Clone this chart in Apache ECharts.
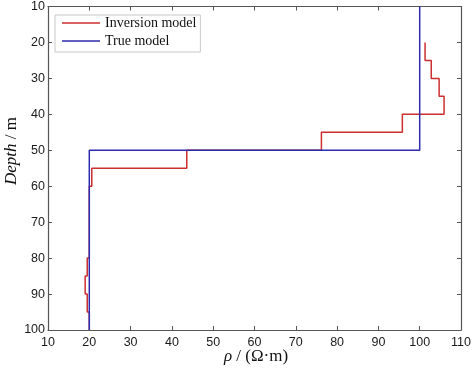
<!DOCTYPE html>
<html>
<head>
<meta charset="utf-8">
<script src="https://cdn.jsdelivr.net/npm/echarts@6/dist/echarts.min.js"></script>
<style>
html,body{margin:0;padding:0;background:#fff;}
#chart{width:474px;height:369px;}
</style>
</head>
<body>
<div id="chart"></div>
<script>
// Inversion model: layer boundaries (depth, m) and resistivity per layer
var invDepth = [20, 25, 30, 35, 40, 45, 50, 55, 60, 65, 70, 75, 80, 85, 90, 95, 100];
var invRho = [101.3, 102.8, 104.7, 105.9, 95.8, 76.2, 43.6, 20.6, 20, 20, 20, 20, 19.5, 19.0, 19.5, 20];
// True model
var trueDepth = [10, 50, 100];
var trueRho = [100, 20];
// Tick values
var xTicks = [10, 20, 30, 40, 50, 60, 70, 80, 90, 100, 110];
var yTicks = [10, 20, 30, 40, 50, 60, 70, 80, 90, 100];

function stepPoints(depths, rhos) {
  var pts = [];
  for (var i = 0; i < rhos.length; i++) {
    pts.push([rhos[i], depths[i]]);
    pts.push([rhos[i], depths[i + 1]]);
  }
  return pts;
}

var axisColor = '#555';
var lblFont = {fontFamily: 'Liberation Sans', fontSize: 12.5, color: '#1a1a1a'};

var chart = echarts.init(document.getElementById('chart'), null, {renderer: 'canvas'});
chart.setOption({
  animation: false,
  backgroundColor: '#fff',
  grid: {left: 48, right: 13, top: 5, bottom: 39},
  legend: {
    orient: 'vertical',
    left: 55, top: 15,
    padding: [1, 4, 4, 7],
    itemGap: 4,
    itemWidth: 38,
    itemHeight: 1.6,
    borderColor: '#c8c8c8',
    borderWidth: 1,
    backgroundColor: '#fff',
    textStyle: {fontFamily: 'Liberation Serif', fontSize: 14, color: '#111', lineHeight: 14, padding: [0, 0, 0, 0]},
    data: [{name: 'Inversion model', icon: 'rect'}, {name: 'True model', icon: 'rect'}]
  },
  xAxis: [{
    type: 'value', min: xTicks[0], max: xTicks[xTicks.length - 1], interval: 10,
    position: 'bottom',
    axisLine: {show: true, lineStyle: {color: axisColor, width: 1.2}},
    axisTick: {show: true, inside: true, length: 4, lineStyle: {color: axisColor}},
    axisLabel: Object.assign({margin: 6}, lblFont),
    splitLine: {show: false}
  }, {
    type: 'value', min: xTicks[0], max: xTicks[xTicks.length - 1], interval: 10,
    position: 'top',
    axisLine: {show: true, onZero: false, lineStyle: {color: axisColor, width: 1.2}},
    axisTick: {show: true, inside: true, length: 4, lineStyle: {color: axisColor}},
    axisLabel: {show: false},
    splitLine: {show: false}
  }],
  yAxis: [{
    type: 'value', inverse: true, min: yTicks[0], max: yTicks[yTicks.length - 1], interval: 10,
    position: 'left',
    axisLine: {show: true, onZero: false, lineStyle: {color: axisColor, width: 1.2}},
    axisTick: {show: true, inside: true, length: 4, lineStyle: {color: axisColor}},
    axisLabel: Object.assign({margin: 3}, lblFont),
    splitLine: {show: false}
  }, {
    type: 'value', inverse: true, min: yTicks[0], max: yTicks[yTicks.length - 1], interval: 10,
    position: 'right',
    axisLine: {show: true, onZero: false, lineStyle: {color: axisColor, width: 1.2}},
    axisTick: {show: true, inside: true, length: 4, lineStyle: {color: axisColor}},
    axisLabel: {show: false},
    splitLine: {show: false}
  }],
  graphic: [{
    type: 'text',
    x: 12, y: 151,
    rotation: Math.PI / 2,
    style: {
      text: '{i|Depth} / m',
      textAlign: 'center', textVerticalAlign: 'middle',
      font: '17px "Liberation Serif"',
      fill: '#111',
      rich: {i: {fontStyle: 'italic', fontFamily: 'Liberation Serif', fontSize: 17}}
    }
  }, {
    type: 'text',
    x: 256, y: 357,
    style: {
      text: '{i|ρ} / (Ω·m)',
      textAlign: 'center', textVerticalAlign: 'middle',
      font: '17px "Liberation Serif"',
      fill: '#111',
      rich: {i: {fontStyle: 'italic', fontFamily: 'Liberation Serif', fontSize: 17}}
    }
  }],
  series: [{
    name: 'Inversion model',
    type: 'line',
    xAxisIndex: 0, yAxisIndex: 0,
    showSymbol: false, symbol: 'none',
    color: '#cc2f2f',
    lineStyle: {color: '#cc2f2f', width: 1.5},
    data: stepPoints(invDepth, invRho)
  }, {
    name: 'True model',
    type: 'line',
    xAxisIndex: 0, yAxisIndex: 0,
    showSymbol: false, symbol: 'none',
    color: '#2b2bb0',
    lineStyle: {color: '#2b2bb0', width: 1.5},
    data: stepPoints(trueDepth, trueRho)
  }]
});
</script>
</body>
</html>
